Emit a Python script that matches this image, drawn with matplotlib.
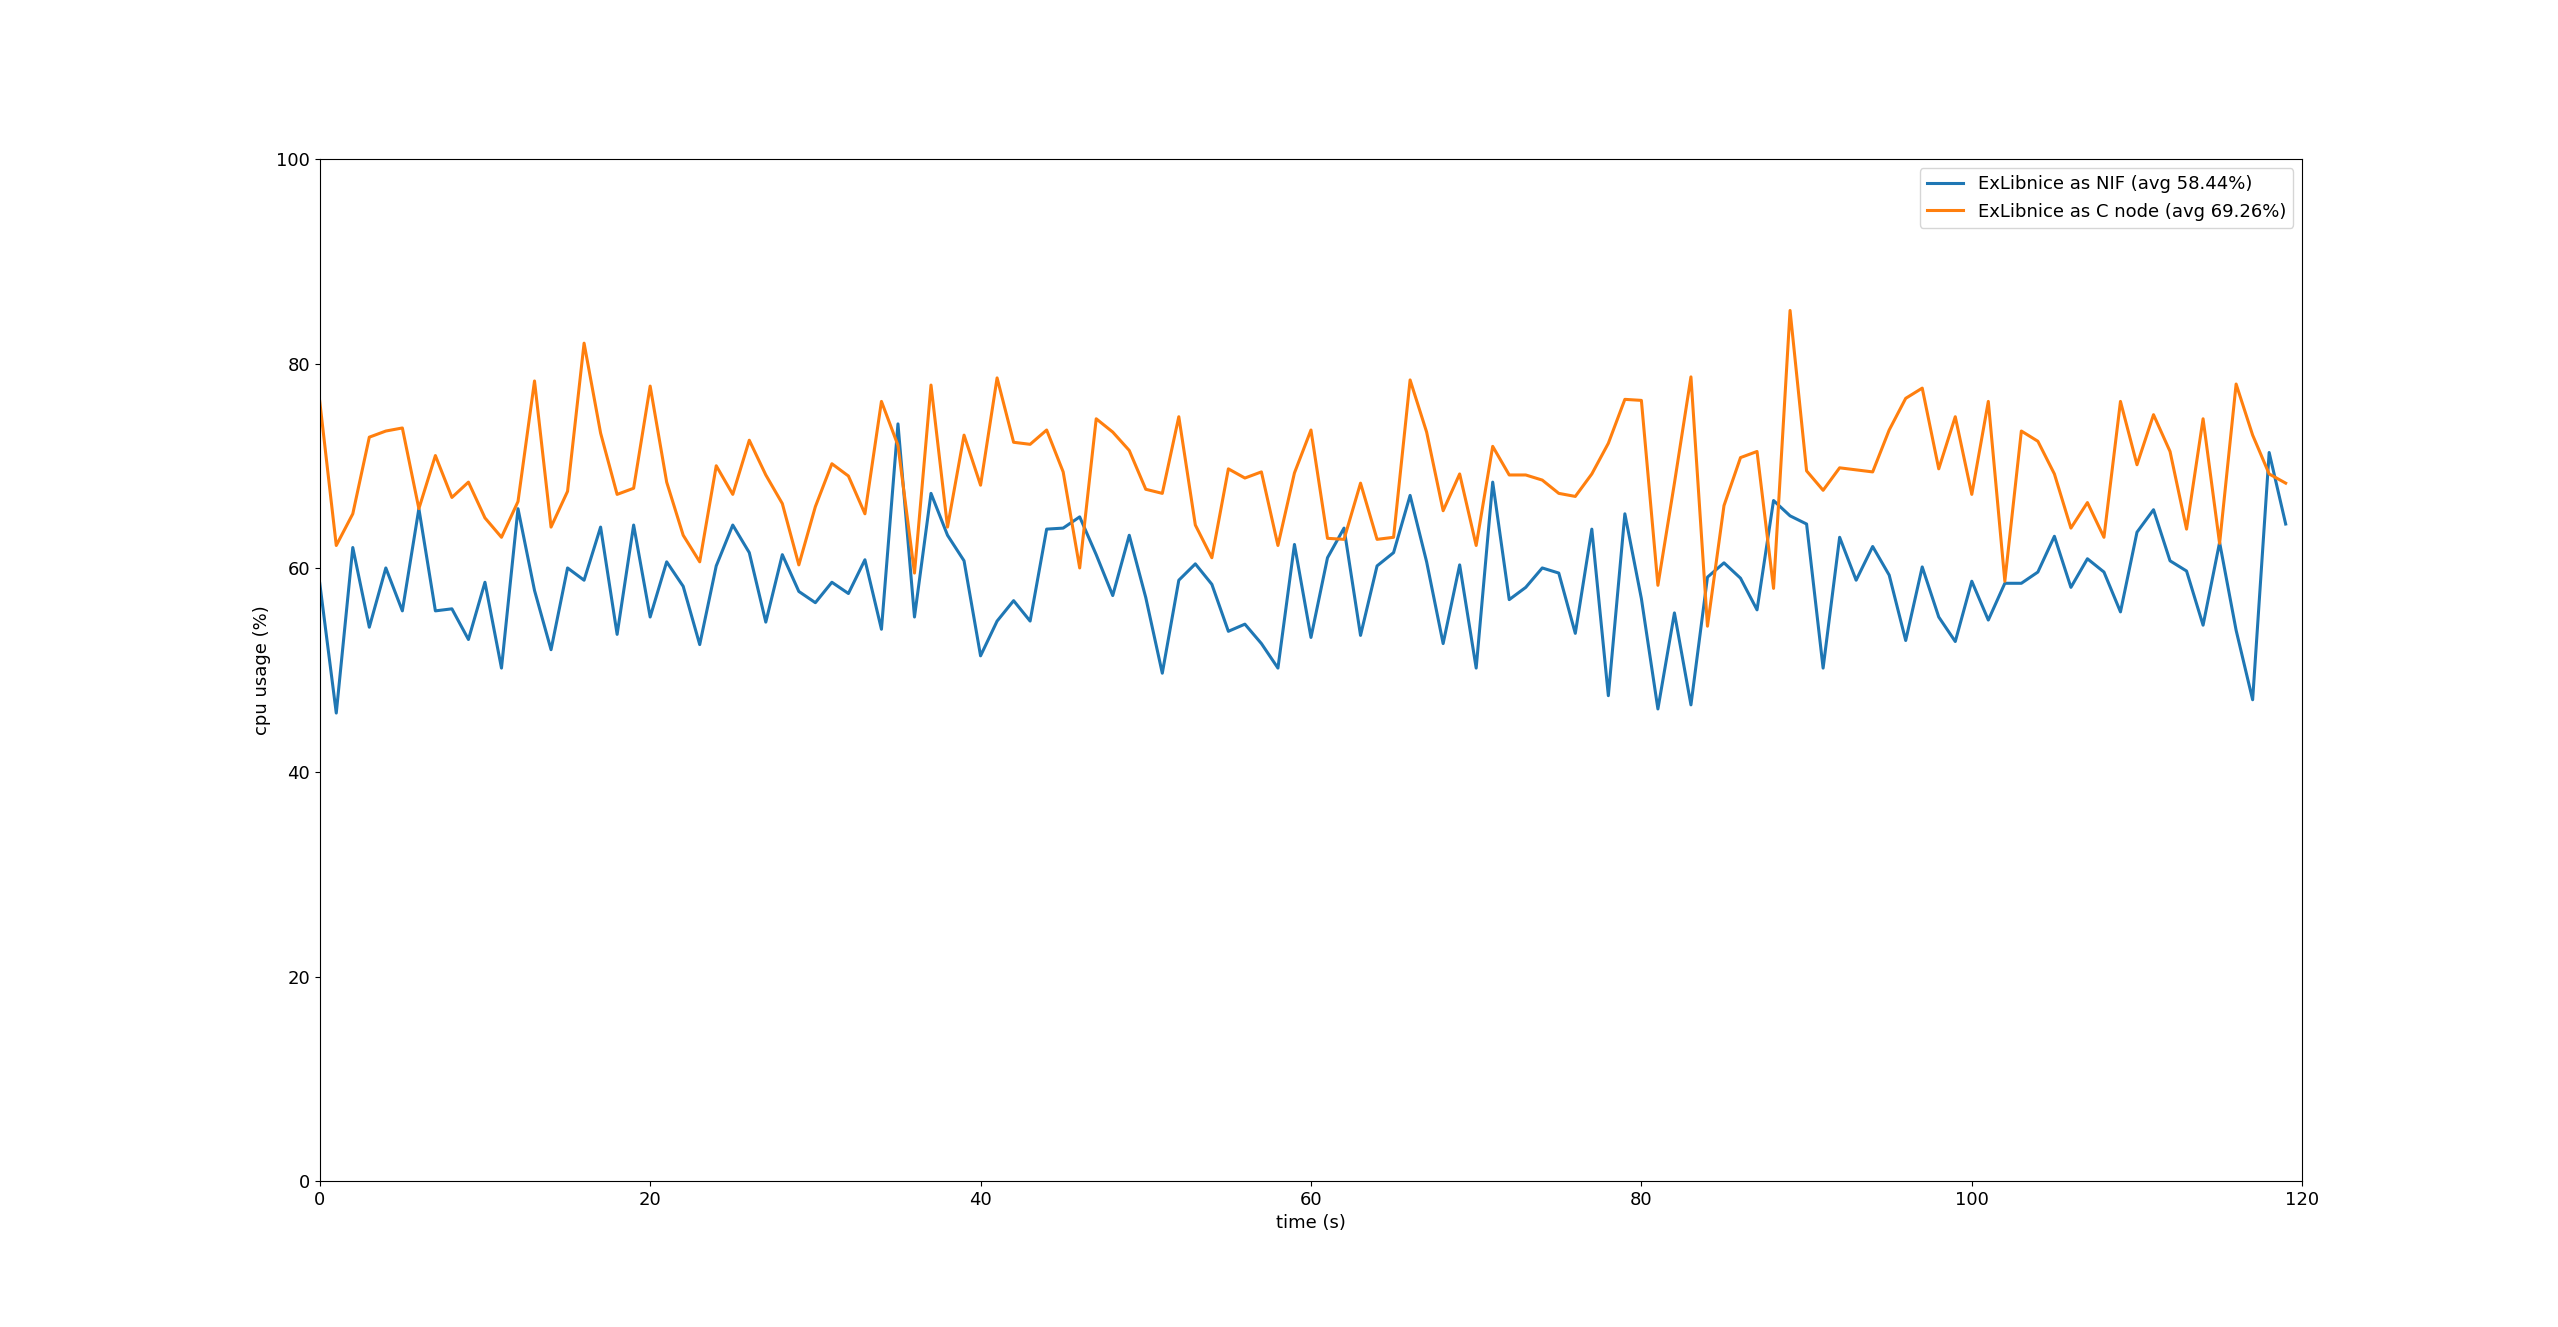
import matplotlib
matplotlib.use("Agg")
import matplotlib.pyplot as plt

nif = [58.5,45.8,62,54.2,60,55.8,65.8,55.8,56,53,58.6,50.2,65.8,57.8,52,60,58.8,64,53.5,64.2,
       55.2,60.6,58.2,52.5,60.2,64.2,61.5,54.7,61.3,57.7,56.6,58.6,57.5,60.8,54,74.1,55.2,67.3,63.2,60.7,
       51.4,54.8,56.8,54.8,63.8,63.9,65,61.3,57.3,63.2,57.1,49.7,58.8,60.4,58.4,53.8,54.5,52.6,50.2,62.3,
       53.2,61,63.9,53.4,60.2,61.5,67.1,60.6,52.6,60.3,50.2,68.4,56.9,58.1,60,59.5,53.6,63.8,47.5,65.3,
       57,46.2,55.6,46.6,59.1,60.5,59,55.9,66.6,65.1,64.3,50.2,63,58.8,62.1,59.3,52.9,60.1,55.2,52.8,
       58.7,54.9,58.5,58.5,59.6,63.1,58.1,60.9,59.6,55.7,63.5,65.7,60.7,59.7,54.4,62.5,53.9,47.1,71.3,64.3]
cnode = [76.3,62.2,65.3,72.8,73.4,73.7,65.8,71,66.9,68.4,64.9,63,66.5,78.3,64,67.5,82,73.2,67.2,67.8,
         77.8,68.4,63.2,60.6,70,67.2,72.5,69.1,66.3,60.3,66,70.2,69,65.3,76.3,72,59.5,77.9,64,73,
         68.1,78.6,72.3,72.1,73.5,69.4,60,74.6,73.3,71.5,67.7,67.3,74.8,64.2,61,69.7,68.8,69.4,62.2,69.3,
         73.5,62.9,62.8,68.3,62.8,63,78.4,73.3,65.6,69.2,62.2,71.9,69.1,69.1,68.6,67.3,67,69.2,72.2,76.5,
         76.4,58.3,68.3,78.7,54.3,66.1,70.8,71.4,58,85.2,69.5,67.6,69.8,69.6,69.4,73.5,76.6,77.6,69.7,74.8,
         67.2,76.3,58.7,73.4,72.4,69.2,63.9,66.4,63,76.3,70.1,75,71.4,63.8,74.6,62.4,78,73,69.2,68.3]
t = list(range(len(nif)))

fig, ax = plt.subplots(figsize=(25.58, 13.27), dpi=100)
ax.plot(t, nif, label="ExLibnice as NIF (avg 58.44%)", linewidth=2.2)
ax.plot(t, cnode, label="ExLibnice as C node (avg 69.26%)", linewidth=2.2)
ax.set_xlim(0, 120)
ax.set_ylim(0, 100)
ax.set_xlabel("time (s)", fontsize=13)
ax.set_ylabel("cpu usage (%)", fontsize=13)
ax.tick_params(labelsize=13)
ax.legend(loc="upper right", fontsize=13)
fig.savefig("out.png", dpi=100)
